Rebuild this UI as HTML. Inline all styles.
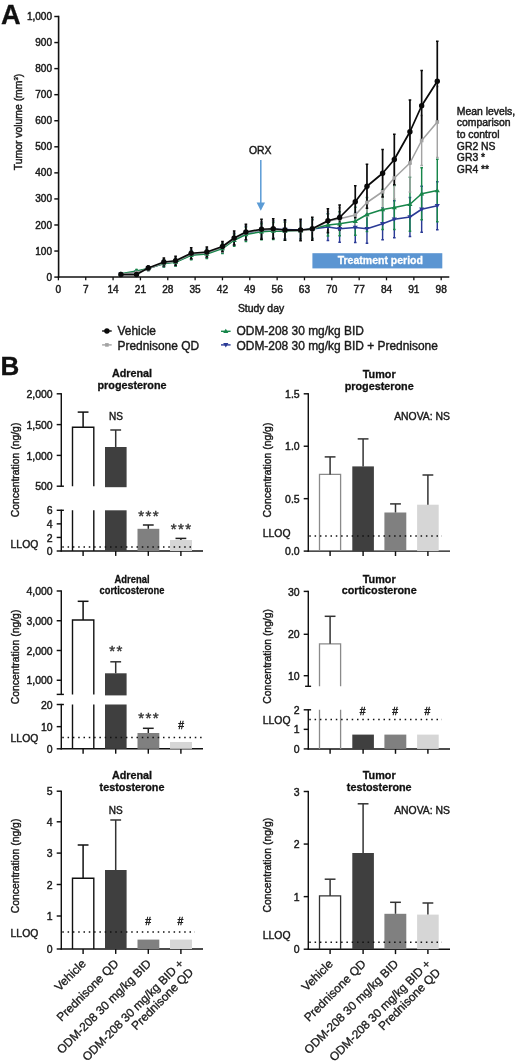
<!DOCTYPE html>
<html lang="en">
<head>
<meta charset="utf-8">
<title>Figure</title>
<style>
html,body{margin:0;padding:0;background:#fff;}
body{width:520px;height:1063px;overflow:hidden;}
svg{display:block;font-family:'Liberation Sans', Arial, sans-serif;}
</style>
</head>
<body>
<svg width="520" height="1063" viewBox="0 0 520 1063">
<rect width="520" height="1063" fill="#fff"/>
<g id="panelA">
<text x="0.9" y="23.5" font-size="27.2" text-anchor="start" font-weight="bold" fill="#111" stroke="#111" stroke-width="0.3">A</text>
<line x1="58.6" y1="15.8" x2="58.6" y2="277.85" stroke="#111" stroke-width="1.6"/>
<line x1="54.3" y1="277.1" x2="58.6" y2="277.1" stroke="#111" stroke-width="1.45"/>
<text x="52.0" y="280.65" font-size="10.0" text-anchor="end" fill="#1a1a1a" stroke="#1a1a1a" stroke-width="0.45">0</text>
<line x1="54.3" y1="251.04" x2="58.6" y2="251.04" stroke="#111" stroke-width="1.45"/>
<text x="52.0" y="254.59" font-size="10.0" text-anchor="end" fill="#1a1a1a" stroke="#1a1a1a" stroke-width="0.45">100</text>
<line x1="54.3" y1="224.98" x2="58.6" y2="224.98" stroke="#111" stroke-width="1.45"/>
<text x="52.0" y="228.53" font-size="10.0" text-anchor="end" fill="#1a1a1a" stroke="#1a1a1a" stroke-width="0.45">200</text>
<line x1="54.3" y1="198.92" x2="58.6" y2="198.92" stroke="#111" stroke-width="1.45"/>
<text x="52.0" y="202.47" font-size="10.0" text-anchor="end" fill="#1a1a1a" stroke="#1a1a1a" stroke-width="0.45">300</text>
<line x1="54.3" y1="172.86" x2="58.6" y2="172.86" stroke="#111" stroke-width="1.45"/>
<text x="52.0" y="176.41" font-size="10.0" text-anchor="end" fill="#1a1a1a" stroke="#1a1a1a" stroke-width="0.45">400</text>
<line x1="54.3" y1="146.8" x2="58.6" y2="146.8" stroke="#111" stroke-width="1.45"/>
<text x="52.0" y="150.35" font-size="10.0" text-anchor="end" fill="#1a1a1a" stroke="#1a1a1a" stroke-width="0.45">500</text>
<line x1="54.3" y1="120.74" x2="58.6" y2="120.74" stroke="#111" stroke-width="1.45"/>
<text x="52.0" y="124.29" font-size="10.0" text-anchor="end" fill="#1a1a1a" stroke="#1a1a1a" stroke-width="0.45">600</text>
<line x1="54.3" y1="94.68" x2="58.6" y2="94.68" stroke="#111" stroke-width="1.45"/>
<text x="52.0" y="98.23" font-size="10.0" text-anchor="end" fill="#1a1a1a" stroke="#1a1a1a" stroke-width="0.45">700</text>
<line x1="54.3" y1="68.62" x2="58.6" y2="68.62" stroke="#111" stroke-width="1.45"/>
<text x="52.0" y="72.17" font-size="10.0" text-anchor="end" fill="#1a1a1a" stroke="#1a1a1a" stroke-width="0.45">800</text>
<line x1="54.3" y1="42.56" x2="58.6" y2="42.56" stroke="#111" stroke-width="1.45"/>
<text x="52.0" y="46.11" font-size="10.0" text-anchor="end" fill="#1a1a1a" stroke="#1a1a1a" stroke-width="0.45">900</text>
<line x1="54.3" y1="16.5" x2="58.6" y2="16.5" stroke="#111" stroke-width="1.45"/>
<text x="52.0" y="20.05" font-size="10.0" text-anchor="end" fill="#1a1a1a" stroke="#1a1a1a" stroke-width="0.45">1,000</text>
<line x1="57.8" y1="277.1" x2="449.3" y2="277.1" stroke="#111" stroke-width="1.5"/>
<line x1="58.4" y1="277.1" x2="58.4" y2="280.3" stroke="#111" stroke-width="1.3"/>
<text x="58.4" y="292.9" font-size="10.1" text-anchor="middle" fill="#1a1a1a" stroke="#1a1a1a" stroke-width="0.45">0</text>
<line x1="85.74" y1="277.1" x2="85.74" y2="280.3" stroke="#111" stroke-width="1.3"/>
<text x="85.74" y="292.9" font-size="10.1" text-anchor="middle" fill="#1a1a1a" stroke="#1a1a1a" stroke-width="0.45">7</text>
<line x1="113.08" y1="277.1" x2="113.08" y2="280.3" stroke="#111" stroke-width="1.3"/>
<text x="113.08" y="292.9" font-size="10.1" text-anchor="middle" fill="#1a1a1a" stroke="#1a1a1a" stroke-width="0.45">14</text>
<line x1="140.43" y1="277.1" x2="140.43" y2="280.3" stroke="#111" stroke-width="1.3"/>
<text x="140.43" y="292.9" font-size="10.1" text-anchor="middle" fill="#1a1a1a" stroke="#1a1a1a" stroke-width="0.45">21</text>
<line x1="167.77" y1="277.1" x2="167.77" y2="280.3" stroke="#111" stroke-width="1.3"/>
<text x="167.77" y="292.9" font-size="10.1" text-anchor="middle" fill="#1a1a1a" stroke="#1a1a1a" stroke-width="0.45">28</text>
<line x1="195.11" y1="277.1" x2="195.11" y2="280.3" stroke="#111" stroke-width="1.3"/>
<text x="195.11" y="292.9" font-size="10.1" text-anchor="middle" fill="#1a1a1a" stroke="#1a1a1a" stroke-width="0.45">35</text>
<line x1="222.45" y1="277.1" x2="222.45" y2="280.3" stroke="#111" stroke-width="1.3"/>
<text x="222.45" y="292.9" font-size="10.1" text-anchor="middle" fill="#1a1a1a" stroke="#1a1a1a" stroke-width="0.45">42</text>
<line x1="249.79" y1="277.1" x2="249.79" y2="280.3" stroke="#111" stroke-width="1.3"/>
<text x="249.79" y="292.9" font-size="10.1" text-anchor="middle" fill="#1a1a1a" stroke="#1a1a1a" stroke-width="0.45">49</text>
<line x1="277.14" y1="277.1" x2="277.14" y2="280.3" stroke="#111" stroke-width="1.3"/>
<text x="277.14" y="292.9" font-size="10.1" text-anchor="middle" fill="#1a1a1a" stroke="#1a1a1a" stroke-width="0.45">56</text>
<line x1="304.48" y1="277.1" x2="304.48" y2="280.3" stroke="#111" stroke-width="1.3"/>
<text x="304.48" y="292.9" font-size="10.1" text-anchor="middle" fill="#1a1a1a" stroke="#1a1a1a" stroke-width="0.45">63</text>
<line x1="331.82" y1="277.1" x2="331.82" y2="280.3" stroke="#111" stroke-width="1.3"/>
<text x="331.82" y="292.9" font-size="10.1" text-anchor="middle" fill="#1a1a1a" stroke="#1a1a1a" stroke-width="0.45">70</text>
<line x1="359.16" y1="277.1" x2="359.16" y2="280.3" stroke="#111" stroke-width="1.3"/>
<text x="359.16" y="292.9" font-size="10.1" text-anchor="middle" fill="#1a1a1a" stroke="#1a1a1a" stroke-width="0.45">77</text>
<line x1="386.5" y1="277.1" x2="386.5" y2="280.3" stroke="#111" stroke-width="1.3"/>
<text x="386.5" y="292.9" font-size="10.1" text-anchor="middle" fill="#1a1a1a" stroke="#1a1a1a" stroke-width="0.45">84</text>
<line x1="413.85" y1="277.1" x2="413.85" y2="280.3" stroke="#111" stroke-width="1.3"/>
<text x="413.85" y="292.9" font-size="10.1" text-anchor="middle" fill="#1a1a1a" stroke="#1a1a1a" stroke-width="0.45">91</text>
<line x1="441.19" y1="277.1" x2="441.19" y2="280.3" stroke="#111" stroke-width="1.3"/>
<text x="441.19" y="292.9" font-size="10.1" text-anchor="middle" fill="#1a1a1a" stroke="#1a1a1a" stroke-width="0.45">98</text>
<text x="21.6" y="122" font-size="10.4" text-anchor="middle" fill="#1a1a1a" stroke="#1a1a1a" stroke-width="0.45" transform="rotate(-90 21.6 122)">Tumor volume (mm<tspan font-size="6" dy="-3.5">3</tspan><tspan dy="3.5">)</tspan></text>
<text x="261" y="311.6" font-size="10.4" text-anchor="middle" fill="#1a1a1a" stroke="#1a1a1a" stroke-width="0.45">Study day</text>
<text x="260.3" y="153.9" font-size="10.4" text-anchor="middle" fill="#1a1a1a" stroke="#1a1a1a" stroke-width="0.45">ORX</text>
<line x1="260.8" y1="160" x2="260.8" y2="204" stroke="#5b9bd5" stroke-width="1.5"/>
<path d="M256.6 202.4 L265 202.4 L260.8 210.8 Z" fill="#5b9bd5"/>
<rect x="312.40" y="253.20" width="129.90" height="15.20" fill="#5b95d2"/>
<text x="380.3" y="264.0" font-size="10.5" text-anchor="middle" font-weight="bold" fill="#fff" stroke="#fff" stroke-width="0.3">Treatment period</text>
<text x="456.8" y="114.6" font-size="10.4" text-anchor="start" fill="#1a1a1a" stroke="#1a1a1a" stroke-width="0.45">Mean levels,</text>
<text x="456.8" y="126.3" font-size="10.4" text-anchor="start" fill="#1a1a1a" stroke="#1a1a1a" stroke-width="0.45">comparison</text>
<text x="456.8" y="138.0" font-size="10.4" text-anchor="start" fill="#1a1a1a" stroke="#1a1a1a" stroke-width="0.45">to control</text>
<text x="456.8" y="149.7" font-size="10.4" text-anchor="start" fill="#1a1a1a" stroke="#1a1a1a" stroke-width="0.45">GR2 NS</text>
<text x="456.8" y="161.4" font-size="10.4" text-anchor="start" fill="#1a1a1a" stroke="#1a1a1a" stroke-width="0.45">GR3 *</text>
<text x="456.8" y="173.1" font-size="10.4" text-anchor="start" fill="#1a1a1a" stroke="#1a1a1a" stroke-width="0.45">GR4 **</text>
<path d="M120.90 273.20V275.20M119.60 273.20h2.6M119.60 275.20h2.6M136.52 270.50V273.50M135.22 270.50h2.6M135.22 273.50h2.6M148.24 266.50V270.50M146.94 266.50h2.6M146.94 270.50h2.6M163.86 259.70V266.70M162.56 259.70h2.6M162.56 266.70h2.6M175.58 257.75V265.75M174.28 257.75h2.6M174.28 265.75h2.6M191.20 250.25V259.25M189.90 250.25h2.6M189.90 259.25h2.6M206.83 248.70V257.70M205.53 248.70h2.6M205.53 257.70h2.6M222.45 242.70V252.70M221.15 242.70h2.6M221.15 252.70h2.6M234.17 233.20V245.20M232.87 233.20h2.6M232.87 245.20h2.6M245.89 226.20V240.20M244.59 226.20h2.6M244.59 240.20h2.6M261.51 222.25V238.25M260.21 222.25h2.6M260.21 238.25h2.6M273.23 220.85V237.85M271.93 220.85h2.6M271.93 237.85h2.6M284.95 220.60V238.60M283.65 220.60h2.6M283.65 238.60h2.6M300.57 221.00V239.00M299.27 221.00h2.6M299.27 239.00h2.6M312.29 219.55V238.55M310.99 219.55h2.6M310.99 238.55h2.6M327.91 213.50V240.50M326.61 213.50h2.6M326.61 240.50h2.6M339.63 215.25V242.25M338.33 215.25h2.6M338.33 242.25h2.6M355.26 212.50V242.50M353.96 212.50h2.6M353.96 242.50h2.6M366.97 214.25V243.25M365.67 214.25h2.6M365.67 243.25h2.6M382.60 207.75V239.75M381.30 207.75h2.6M381.30 239.75h2.6M394.32 200.75V237.75M393.02 200.75h2.6M393.02 237.75h2.6M409.94 197.50V236.50M408.64 197.50h2.6M408.64 236.50h2.6M421.66 186.25V232.25M420.36 186.25h2.6M420.36 232.25h2.6M437.28 181.75V229.75M435.98 181.75h2.6M435.98 229.75h2.6" stroke="#2a3a96" stroke-width="1.45" fill="none"/>
<path d="M120.90 272.80V274.80M119.60 272.80h2.6M119.60 274.80h2.6M136.52 269.50V272.50M135.22 269.50h2.6M135.22 272.50h2.6M148.24 266.50V270.50M146.94 266.50h2.6M146.94 270.50h2.6M163.86 260.00V267.00M162.56 260.00h2.6M162.56 267.00h2.6M175.58 258.25V266.25M174.28 258.25h2.6M174.28 266.25h2.6M191.20 250.75V259.75M189.90 250.75h2.6M189.90 259.75h2.6M206.83 249.50V258.50M205.53 249.50h2.6M205.53 258.50h2.6M222.45 243.50V253.50M221.15 243.50h2.6M221.15 253.50h2.6M234.17 234.20V246.20M232.87 234.20h2.6M232.87 246.20h2.6M245.89 227.50V241.50M244.59 227.50h2.6M244.59 241.50h2.6M261.51 223.75V239.75M260.21 223.75h2.6M260.21 239.75h2.6M273.23 222.45V239.45M271.93 222.45h2.6M271.93 239.45h2.6M284.95 222.20V240.20M283.65 222.20h2.6M283.65 240.20h2.6M300.57 221.60V239.60M299.27 221.60h2.6M299.27 239.60h2.6M312.29 219.55V238.55M310.99 219.55h2.6M310.99 238.55h2.6M327.91 214.00V236.00M326.61 214.00h2.6M326.61 236.00h2.6M339.63 211.75V235.75M338.33 211.75h2.6M338.33 235.75h2.6M355.26 207.25V235.25M353.96 207.25h2.6M353.96 235.25h2.6M366.97 197.50V231.50M365.67 197.50h2.6M365.67 231.50h2.6M382.60 189.50V229.50M381.30 189.50h2.6M381.30 229.50h2.6M394.32 185.50V229.50M393.02 185.50h2.6M393.02 229.50h2.6M409.94 177.25V231.25M408.64 177.25h2.6M408.64 231.25h2.6M421.66 167.75V219.75M420.36 167.75h2.6M420.36 219.75h2.6M437.28 159.30V221.70M435.98 159.30h2.6M435.98 221.70h2.6" stroke="#17864a" stroke-width="1.45" fill="none"/>
<path d="M120.90 273.20V275.20M119.60 273.20h2.6M119.60 275.20h2.6M136.52 271.00V274.00M135.22 271.00h2.6M135.22 274.00h2.6M148.24 266.80V270.80M146.94 266.80h2.6M146.94 270.80h2.6M163.86 259.30V266.30M162.56 259.30h2.6M162.56 266.30h2.6M175.58 257.55V265.55M174.28 257.55h2.6M174.28 265.55h2.6M191.20 249.55V258.55M189.90 249.55h2.6M189.90 258.55h2.6M206.83 248.30V257.30M205.53 248.30h2.6M205.53 257.30h2.6M222.45 242.30V252.30M221.15 242.30h2.6M221.15 252.30h2.6M234.17 232.80V244.80M232.87 232.80h2.6M232.87 244.80h2.6M245.89 225.80V239.80M244.59 225.80h2.6M244.59 239.80h2.6M261.51 222.05V238.05M260.21 222.05h2.6M260.21 238.05h2.6M273.23 221.05V238.05M271.93 221.05h2.6M271.93 238.05h2.6M284.95 221.80V239.80M283.65 221.80h2.6M283.65 239.80h2.6M300.57 221.80V239.80M299.27 221.80h2.6M299.27 239.80h2.6M312.29 220.05V239.05M310.99 220.05h2.6M310.99 239.05h2.6M327.91 211.25V231.25M326.61 211.25h2.6M326.61 231.25h2.6M339.63 207.75V229.75M338.33 207.75h2.6M338.33 229.75h2.6M355.26 203.00V227.00M353.96 203.00h2.6M353.96 227.00h2.6M366.97 188.50V216.50M365.67 188.50h2.6M365.67 216.50h2.6M382.60 174.75V208.75M381.30 174.75h2.6M381.30 208.75h2.6M394.32 157.00V199.00M393.02 157.00h2.6M393.02 199.00h2.6M409.94 134.00V192.00M408.64 134.00h2.6M408.64 192.00h2.6M421.66 115.50V165.50M420.36 115.50h2.6M420.36 165.50h2.6M437.28 86.50V157.50M435.98 86.50h2.6M435.98 157.50h2.6" stroke="#a3a3a3" stroke-width="1.45" fill="none"/>
<path d="M120.90 273.50V275.50M119.60 273.50h2.6M119.60 275.50h2.6M136.52 273.50V275.50M135.22 273.50h2.6M135.22 275.50h2.6M148.24 266.00V270.00M146.94 266.00h2.6M146.94 270.00h2.6M163.86 258.00V266.00M162.56 258.00h2.6M162.56 266.00h2.6M175.58 256.25V265.25M174.28 256.25h2.6M174.28 265.25h2.6M191.20 247.75V258.75M189.90 247.75h2.6M189.90 258.75h2.6M206.83 247.00V257.00M205.53 247.00h2.6M205.53 257.00h2.6M222.45 241.50V251.50M221.15 241.50h2.6M221.15 251.50h2.6M234.17 231.00V245.00M232.87 231.00h2.6M232.87 245.00h2.6M245.89 224.25V239.75M244.59 224.25h2.6M244.59 239.75h2.6M261.51 219.25V239.25M260.21 219.25h2.6M260.21 239.25h2.6M273.23 218.75V238.75M271.93 218.75h2.6M271.93 238.75h2.6M284.95 219.75V240.25M283.65 219.75h2.6M283.65 240.25h2.6M300.57 219.25V240.75M299.27 219.25h2.6M299.27 240.75h2.6M312.29 217.25V240.25M310.99 217.25h2.6M310.99 240.25h2.6M327.91 208.75V232.75M326.61 208.75h2.6M326.61 232.75h2.6M339.63 205.00V230.00M338.33 205.00h2.6M338.33 230.00h2.6M355.26 185.75V217.75M353.96 185.75h2.6M353.96 217.75h2.6M366.97 164.25V208.25M365.67 164.25h2.6M365.67 208.25h2.6M382.60 149.50V197.00M381.30 149.50h2.6M381.30 197.00h2.6M394.32 134.25V184.75M393.02 134.25h2.6M393.02 184.75h2.6M409.94 100.00V163.50M408.64 100.00h2.6M408.64 163.50h2.6M421.66 70.50V141.00M420.36 70.50h2.6M420.36 141.00h2.6M437.28 41.25V121.25M435.98 41.25h2.6M435.98 121.25h2.6" stroke="#0a0a0a" stroke-width="1.7" fill="none"/>
<polyline points="120.90,274.20 136.52,272.00 148.24,268.50 163.86,263.20 175.58,261.75 191.20,254.75 206.83,253.20 222.45,247.70 234.17,239.20 245.89,233.20 261.51,230.25 273.23,229.35 284.95,229.60 300.57,230.00 312.29,229.05 327.91,227.00 339.63,228.75 355.26,227.50 366.97,228.75 382.60,223.75 394.32,219.25 409.94,217.00 421.66,209.25 437.28,205.75" stroke="#2a3a96" stroke-width="1.55" fill="none" stroke-linejoin="round"/>
<path d="M118.30 272.40 L123.50 272.40 L120.90 276.80 Z" fill="#2a3a96"/>
<path d="M133.92 270.20 L139.12 270.20 L136.52 274.60 Z" fill="#2a3a96"/>
<path d="M145.64 266.70 L150.84 266.70 L148.24 271.10 Z" fill="#2a3a96"/>
<path d="M161.26 261.40 L166.46 261.40 L163.86 265.80 Z" fill="#2a3a96"/>
<path d="M172.98 259.95 L178.18 259.95 L175.58 264.35 Z" fill="#2a3a96"/>
<path d="M188.60 252.95 L193.80 252.95 L191.20 257.35 Z" fill="#2a3a96"/>
<path d="M204.23 251.40 L209.43 251.40 L206.83 255.80 Z" fill="#2a3a96"/>
<path d="M219.85 245.90 L225.05 245.90 L222.45 250.30 Z" fill="#2a3a96"/>
<path d="M231.57 237.40 L236.77 237.40 L234.17 241.80 Z" fill="#2a3a96"/>
<path d="M243.29 231.40 L248.49 231.40 L245.89 235.80 Z" fill="#2a3a96"/>
<path d="M258.91 228.45 L264.11 228.45 L261.51 232.85 Z" fill="#2a3a96"/>
<path d="M270.63 227.55 L275.83 227.55 L273.23 231.95 Z" fill="#2a3a96"/>
<path d="M282.35 227.80 L287.55 227.80 L284.95 232.20 Z" fill="#2a3a96"/>
<path d="M297.97 228.20 L303.17 228.20 L300.57 232.60 Z" fill="#2a3a96"/>
<path d="M309.69 227.25 L314.89 227.25 L312.29 231.65 Z" fill="#2a3a96"/>
<path d="M325.31 225.20 L330.51 225.20 L327.91 229.60 Z" fill="#2a3a96"/>
<path d="M337.03 226.95 L342.23 226.95 L339.63 231.35 Z" fill="#2a3a96"/>
<path d="M352.66 225.70 L357.86 225.70 L355.26 230.10 Z" fill="#2a3a96"/>
<path d="M364.37 226.95 L369.57 226.95 L366.97 231.35 Z" fill="#2a3a96"/>
<path d="M380.00 221.95 L385.20 221.95 L382.60 226.35 Z" fill="#2a3a96"/>
<path d="M391.72 217.45 L396.92 217.45 L394.32 221.85 Z" fill="#2a3a96"/>
<path d="M407.34 215.20 L412.54 215.20 L409.94 219.60 Z" fill="#2a3a96"/>
<path d="M419.06 207.45 L424.26 207.45 L421.66 211.85 Z" fill="#2a3a96"/>
<path d="M434.68 203.95 L439.88 203.95 L437.28 208.35 Z" fill="#2a3a96"/>
<polyline points="120.90,273.80 136.52,271.00 148.24,268.50 163.86,263.50 175.58,262.25 191.20,255.25 206.83,254.00 222.45,248.50 234.17,240.20 245.89,234.50 261.51,231.75 273.23,230.95 284.95,231.20 300.57,230.60 312.29,229.05 327.91,225.00 339.63,223.75 355.26,221.25 366.97,214.50 382.60,209.50 394.32,207.50 409.94,204.25 421.66,193.75 437.28,190.50" stroke="#17864a" stroke-width="1.55" fill="none" stroke-linejoin="round"/>
<path d="M118.30 275.60 L123.50 275.60 L120.90 271.20 Z" fill="#17864a"/>
<path d="M133.92 272.80 L139.12 272.80 L136.52 268.40 Z" fill="#17864a"/>
<path d="M145.64 270.30 L150.84 270.30 L148.24 265.90 Z" fill="#17864a"/>
<path d="M161.26 265.30 L166.46 265.30 L163.86 260.90 Z" fill="#17864a"/>
<path d="M172.98 264.05 L178.18 264.05 L175.58 259.65 Z" fill="#17864a"/>
<path d="M188.60 257.05 L193.80 257.05 L191.20 252.65 Z" fill="#17864a"/>
<path d="M204.23 255.80 L209.43 255.80 L206.83 251.40 Z" fill="#17864a"/>
<path d="M219.85 250.30 L225.05 250.30 L222.45 245.90 Z" fill="#17864a"/>
<path d="M231.57 242.00 L236.77 242.00 L234.17 237.60 Z" fill="#17864a"/>
<path d="M243.29 236.30 L248.49 236.30 L245.89 231.90 Z" fill="#17864a"/>
<path d="M258.91 233.55 L264.11 233.55 L261.51 229.15 Z" fill="#17864a"/>
<path d="M270.63 232.75 L275.83 232.75 L273.23 228.35 Z" fill="#17864a"/>
<path d="M282.35 233.00 L287.55 233.00 L284.95 228.60 Z" fill="#17864a"/>
<path d="M297.97 232.40 L303.17 232.40 L300.57 228.00 Z" fill="#17864a"/>
<path d="M309.69 230.85 L314.89 230.85 L312.29 226.45 Z" fill="#17864a"/>
<path d="M325.31 226.80 L330.51 226.80 L327.91 222.40 Z" fill="#17864a"/>
<path d="M337.03 225.55 L342.23 225.55 L339.63 221.15 Z" fill="#17864a"/>
<path d="M352.66 223.05 L357.86 223.05 L355.26 218.65 Z" fill="#17864a"/>
<path d="M364.37 216.30 L369.57 216.30 L366.97 211.90 Z" fill="#17864a"/>
<path d="M380.00 211.30 L385.20 211.30 L382.60 206.90 Z" fill="#17864a"/>
<path d="M391.72 209.30 L396.92 209.30 L394.32 204.90 Z" fill="#17864a"/>
<path d="M407.34 206.05 L412.54 206.05 L409.94 201.65 Z" fill="#17864a"/>
<path d="M419.06 195.55 L424.26 195.55 L421.66 191.15 Z" fill="#17864a"/>
<path d="M434.68 192.30 L439.88 192.30 L437.28 187.90 Z" fill="#17864a"/>
<polyline points="120.90,274.20 136.52,272.50 148.24,268.80 163.86,262.80 175.58,261.55 191.20,254.05 206.83,252.80 222.45,247.30 234.17,238.80 245.89,232.80 261.51,230.05 273.23,229.55 284.95,230.80 300.57,230.80 312.29,229.55 327.91,221.25 339.63,218.75 355.26,215.00 366.97,202.50 382.60,191.75 394.32,178.00 409.94,163.00 421.66,140.50 437.28,122.00" stroke="#a3a3a3" stroke-width="1.55" fill="none" stroke-linejoin="round"/>
<rect x="119.10" y="272.40" width="3.6" height="3.6" fill="#a3a3a3"/>
<rect x="134.72" y="270.70" width="3.6" height="3.6" fill="#a3a3a3"/>
<rect x="146.44" y="267.00" width="3.6" height="3.6" fill="#a3a3a3"/>
<rect x="162.06" y="261.00" width="3.6" height="3.6" fill="#a3a3a3"/>
<rect x="173.78" y="259.75" width="3.6" height="3.6" fill="#a3a3a3"/>
<rect x="189.40" y="252.25" width="3.6" height="3.6" fill="#a3a3a3"/>
<rect x="205.03" y="251.00" width="3.6" height="3.6" fill="#a3a3a3"/>
<rect x="220.65" y="245.50" width="3.6" height="3.6" fill="#a3a3a3"/>
<rect x="232.37" y="237.00" width="3.6" height="3.6" fill="#a3a3a3"/>
<rect x="244.09" y="231.00" width="3.6" height="3.6" fill="#a3a3a3"/>
<rect x="259.71" y="228.25" width="3.6" height="3.6" fill="#a3a3a3"/>
<rect x="271.43" y="227.75" width="3.6" height="3.6" fill="#a3a3a3"/>
<rect x="283.15" y="229.00" width="3.6" height="3.6" fill="#a3a3a3"/>
<rect x="298.77" y="229.00" width="3.6" height="3.6" fill="#a3a3a3"/>
<rect x="310.49" y="227.75" width="3.6" height="3.6" fill="#a3a3a3"/>
<rect x="326.11" y="219.45" width="3.6" height="3.6" fill="#a3a3a3"/>
<rect x="337.83" y="216.95" width="3.6" height="3.6" fill="#a3a3a3"/>
<rect x="353.46" y="213.20" width="3.6" height="3.6" fill="#a3a3a3"/>
<rect x="365.17" y="200.70" width="3.6" height="3.6" fill="#a3a3a3"/>
<rect x="380.80" y="189.95" width="3.6" height="3.6" fill="#a3a3a3"/>
<rect x="392.52" y="176.20" width="3.6" height="3.6" fill="#a3a3a3"/>
<rect x="408.14" y="161.20" width="3.6" height="3.6" fill="#a3a3a3"/>
<rect x="419.86" y="138.70" width="3.6" height="3.6" fill="#a3a3a3"/>
<rect x="435.48" y="120.20" width="3.6" height="3.6" fill="#a3a3a3"/>
<polyline points="120.90,274.50 136.52,274.50 148.24,268.00 163.86,262.00 175.58,260.75 191.20,253.25 206.83,252.00 222.45,246.50 234.17,238.00 245.89,232.00 261.51,229.25 273.23,228.75 284.95,230.00 300.57,230.00 312.29,228.75 327.91,220.75 339.63,217.50 355.26,201.75 366.97,186.25 382.60,173.25 394.32,159.50 409.94,131.75 421.66,105.75 437.28,81.25" stroke="#0a0a0a" stroke-width="1.75" fill="none" stroke-linejoin="round"/>
<circle cx="120.90" cy="274.50" r="2.7" fill="#0a0a0a"/>
<circle cx="136.52" cy="274.50" r="2.7" fill="#0a0a0a"/>
<circle cx="148.24" cy="268.00" r="2.7" fill="#0a0a0a"/>
<circle cx="163.86" cy="262.00" r="2.7" fill="#0a0a0a"/>
<circle cx="175.58" cy="260.75" r="2.7" fill="#0a0a0a"/>
<circle cx="191.20" cy="253.25" r="2.7" fill="#0a0a0a"/>
<circle cx="206.83" cy="252.00" r="2.7" fill="#0a0a0a"/>
<circle cx="222.45" cy="246.50" r="2.7" fill="#0a0a0a"/>
<circle cx="234.17" cy="238.00" r="2.7" fill="#0a0a0a"/>
<circle cx="245.89" cy="232.00" r="2.7" fill="#0a0a0a"/>
<circle cx="261.51" cy="229.25" r="2.7" fill="#0a0a0a"/>
<circle cx="273.23" cy="228.75" r="2.7" fill="#0a0a0a"/>
<circle cx="284.95" cy="230.00" r="2.7" fill="#0a0a0a"/>
<circle cx="300.57" cy="230.00" r="2.7" fill="#0a0a0a"/>
<circle cx="312.29" cy="228.75" r="2.7" fill="#0a0a0a"/>
<circle cx="327.91" cy="220.75" r="2.7" fill="#0a0a0a"/>
<circle cx="339.63" cy="217.50" r="2.7" fill="#0a0a0a"/>
<circle cx="355.26" cy="201.75" r="2.7" fill="#0a0a0a"/>
<circle cx="366.97" cy="186.25" r="2.7" fill="#0a0a0a"/>
<circle cx="382.60" cy="173.25" r="2.7" fill="#0a0a0a"/>
<circle cx="394.32" cy="159.50" r="2.7" fill="#0a0a0a"/>
<circle cx="409.94" cy="131.75" r="2.7" fill="#0a0a0a"/>
<circle cx="421.66" cy="105.75" r="2.7" fill="#0a0a0a"/>
<circle cx="437.28" cy="81.25" r="2.7" fill="#0a0a0a"/>
<line x1="102.1" y1="331.0" x2="111.7" y2="331.0" stroke="#0a0a0a" stroke-width="1.4"/>
<circle cx="106.90" cy="331.00" r="2.7" fill="#0a0a0a"/>
<text x="117.5" y="335.0" font-size="11.95" text-anchor="start" fill="#1a1a1a" stroke="#1a1a1a" stroke-width="0.4">Vehicle</text>
<line x1="102.1" y1="344.9" x2="111.7" y2="344.9" stroke="#a3a3a3" stroke-width="1.4"/>
<rect x="105.10" y="343.10" width="3.6" height="3.6" fill="#a3a3a3"/>
<text x="117.5" y="349.9" font-size="11.95" text-anchor="start" fill="#1a1a1a" stroke="#1a1a1a" stroke-width="0.4">Prednisone QD</text>
<line x1="221.0" y1="331.3" x2="230.6" y2="331.3" stroke="#17864a" stroke-width="1.4"/>
<path d="M223.20 333.10 L228.40 333.10 L225.80 328.70 Z" fill="#17864a"/>
<text x="236.5" y="335.0" font-size="11.95" text-anchor="start" fill="#1a1a1a" stroke="#1a1a1a" stroke-width="0.4">ODM-208 30 mg/kg BID</text>
<line x1="221.0" y1="344.9" x2="230.6" y2="344.9" stroke="#2a3a96" stroke-width="1.4"/>
<path d="M223.20 343.10 L228.40 343.10 L225.80 347.50 Z" fill="#2a3a96"/>
<text x="236.5" y="349.8" font-size="11.95" text-anchor="start" fill="#1a1a1a" stroke="#1a1a1a" stroke-width="0.4">ODM-208 30 mg/kg BID + Prednisone</text>
</g>
<g id="panelB">
<text x="0.6" y="374.8" font-size="26" text-anchor="start" font-weight="bold" fill="#111" stroke="#111" stroke-width="0.3">B</text>
<text x="132" y="377.2" font-size="10.8" text-anchor="middle" font-weight="bold" fill="#111" stroke="#111" stroke-width="0.3">Adrenal</text>
<text x="132" y="388.8" font-size="10.8" text-anchor="middle" font-weight="bold" fill="#111" stroke="#111" stroke-width="0.3">progesterone</text>
<text x="18.8" y="470" font-size="10.4" text-anchor="middle" fill="#1a1a1a" stroke="#1a1a1a" stroke-width="0.42" transform="rotate(-90 18.8 470)">Concentration (ng/g)</text>
<line x1="61.3" y1="393.15" x2="61.3" y2="486.85" stroke="#111" stroke-width="1.45"/>
<line x1="56.7" y1="393.8" x2="61.3" y2="393.8" stroke="#111" stroke-width="1.45"/>
<text x="52.7" y="397.9" font-size="10.5" text-anchor="end" fill="#1a1a1a" stroke="#1a1a1a" stroke-width="0.42">2,000</text>
<line x1="56.7" y1="424.6" x2="61.3" y2="424.6" stroke="#111" stroke-width="1.45"/>
<text x="52.7" y="428.7" font-size="10.5" text-anchor="end" fill="#1a1a1a" stroke="#1a1a1a" stroke-width="0.42">1,500</text>
<line x1="56.7" y1="455.4" x2="61.3" y2="455.4" stroke="#111" stroke-width="1.45"/>
<text x="52.7" y="459.5" font-size="10.5" text-anchor="end" fill="#1a1a1a" stroke="#1a1a1a" stroke-width="0.42">1,000</text>
<line x1="56.7" y1="486.2" x2="61.3" y2="486.2" stroke="#111" stroke-width="1.45"/>
<text x="52.7" y="490.3" font-size="10.5" text-anchor="end" fill="#1a1a1a" stroke="#1a1a1a" stroke-width="0.42">500</text>
<line x1="61.3" y1="486.2" x2="63.9" y2="486.2" stroke="#111" stroke-width="1.45"/>
<line x1="61.3" y1="509.65" x2="61.3" y2="551.65" stroke="#111" stroke-width="1.45"/>
<line x1="61.3" y1="510.3" x2="63.9" y2="510.3" stroke="#111" stroke-width="1.45"/>
<line x1="56.7" y1="510.3" x2="61.3" y2="510.3" stroke="#111" stroke-width="1.45"/>
<text x="52.7" y="514.4" font-size="10.5" text-anchor="end" fill="#1a1a1a" stroke="#1a1a1a" stroke-width="0.42">6</text>
<line x1="56.7" y1="523.87" x2="61.3" y2="523.87" stroke="#111" stroke-width="1.45"/>
<text x="52.7" y="527.97" font-size="10.5" text-anchor="end" fill="#1a1a1a" stroke="#1a1a1a" stroke-width="0.42">4</text>
<line x1="56.7" y1="537.43" x2="61.3" y2="537.43" stroke="#111" stroke-width="1.45"/>
<text x="52.7" y="541.53" font-size="10.5" text-anchor="end" fill="#1a1a1a" stroke="#1a1a1a" stroke-width="0.42">2</text>
<line x1="56.7" y1="551.0" x2="61.3" y2="551.0" stroke="#111" stroke-width="1.45"/>
<text x="52.7" y="555.1" font-size="10.5" text-anchor="end" fill="#1a1a1a" stroke="#1a1a1a" stroke-width="0.42">0</text>
<line x1="60.65" y1="551.0" x2="203" y2="551.0" stroke="#111" stroke-width="1.45"/>
<line x1="83.1" y1="551.0" x2="83.1" y2="555.9" stroke="#111" stroke-width="1.45"/>
<line x1="115.7" y1="551.0" x2="115.7" y2="555.9" stroke="#111" stroke-width="1.45"/>
<line x1="148.3" y1="551.0" x2="148.3" y2="555.9" stroke="#111" stroke-width="1.45"/>
<line x1="180.9" y1="551.0" x2="180.9" y2="555.9" stroke="#111" stroke-width="1.45"/>
<path d="M72.5 486.2V427.2H93.8V486.2M72.5 510.3V551.0M93.8 510.3V551.0" stroke="#111" stroke-width="1.4" fill="none"/>
<line x1="83.1" y1="412.1" x2="83.1" y2="427.2" stroke="#111" stroke-width="1.5"/>
<line x1="77.7" y1="412.1" x2="88.5" y2="412.1" stroke="#111" stroke-width="1.5"/>
<rect x="105.00" y="447.00" width="21.60" height="40.20" fill="#3f3f3f"/>
<rect x="105.00" y="510.30" width="21.60" height="40.70" fill="#3f3f3f"/>
<line x1="115.7" y1="430" x2="115.7" y2="447" stroke="#333" stroke-width="1.5"/>
<line x1="110.3" y1="430" x2="121.1" y2="430" stroke="#333" stroke-width="1.5"/>
<rect x="137.50" y="528.80" width="21.80" height="22.20" fill="#808080"/>
<line x1="148.3" y1="525" x2="148.3" y2="528.8" stroke="#222" stroke-width="1.5"/>
<line x1="142.9" y1="525" x2="153.7" y2="525" stroke="#222" stroke-width="1.5"/>
<rect x="170.00" y="540.00" width="22.00" height="11.00" fill="#d6d6d6"/>
<line x1="180.9" y1="538.4" x2="180.9" y2="540" stroke="#222" stroke-width="1.5"/>
<line x1="175.5" y1="538.4" x2="186.3" y2="538.4" stroke="#222" stroke-width="1.5"/>
<line x1="62.3" y1="547" x2="194" y2="547" stroke="#111" stroke-width="1.5" stroke-dasharray="1.5 3.8"/>
<text x="10.6" y="547.6" font-size="10.4" text-anchor="start" fill="#1a1a1a" stroke="#1a1a1a" stroke-width="0.42">LLOQ</text>
<text x="115.9" y="420.0" font-size="10" text-anchor="middle" fill="#1a1a1a" stroke="#1a1a1a" stroke-width="0.42">NS</text>
<text x="149.2" y="521.0" font-size="15" text-anchor="middle" fill="#333" stroke="#333" stroke-width="0.42" letter-spacing="1.4">***</text>
<text x="181.7" y="533.5" font-size="15" text-anchor="middle" fill="#333" stroke="#333" stroke-width="0.42" letter-spacing="1.4">***</text>
<text x="132" y="582.8" font-size="10.8" text-anchor="middle" font-weight="bold" fill="#111" stroke="#111" stroke-width="0.3" textLength="35" lengthAdjust="spacingAndGlyphs">Adrenal</text>
<text x="132" y="594.4" font-size="10.8" text-anchor="middle" font-weight="bold" fill="#111" stroke="#111" stroke-width="0.3" textLength="65" lengthAdjust="spacingAndGlyphs">corticosterone</text>
<text x="18.8" y="657" font-size="10.4" text-anchor="middle" fill="#1a1a1a" stroke="#1a1a1a" stroke-width="0.42" transform="rotate(-90 18.8 657)">Concentration (ng/g)</text>
<line x1="61.3" y1="590.35" x2="61.3" y2="695.05" stroke="#111" stroke-width="1.45"/>
<line x1="56.7" y1="591.0" x2="61.3" y2="591.0" stroke="#111" stroke-width="1.45"/>
<text x="52.7" y="595.1" font-size="10.5" text-anchor="end" fill="#1a1a1a" stroke="#1a1a1a" stroke-width="0.42">4,000</text>
<line x1="56.7" y1="620.75" x2="61.3" y2="620.75" stroke="#111" stroke-width="1.45"/>
<text x="52.7" y="624.85" font-size="10.5" text-anchor="end" fill="#1a1a1a" stroke="#1a1a1a" stroke-width="0.42">3,000</text>
<line x1="56.7" y1="650.5" x2="61.3" y2="650.5" stroke="#111" stroke-width="1.45"/>
<text x="52.7" y="654.6" font-size="10.5" text-anchor="end" fill="#1a1a1a" stroke="#1a1a1a" stroke-width="0.42">2,000</text>
<line x1="56.7" y1="680.25" x2="61.3" y2="680.25" stroke="#111" stroke-width="1.45"/>
<text x="52.7" y="684.35" font-size="10.5" text-anchor="end" fill="#1a1a1a" stroke="#1a1a1a" stroke-width="0.42">1,000</text>
<line x1="56.7" y1="694.4" x2="63.9" y2="694.4" stroke="#111" stroke-width="1.45"/>
<line x1="61.3" y1="703.85" x2="61.3" y2="749.45" stroke="#111" stroke-width="1.45"/>
<line x1="61.3" y1="704.5" x2="63.9" y2="704.5" stroke="#111" stroke-width="1.45"/>
<line x1="56.7" y1="704.5" x2="61.3" y2="704.5" stroke="#111" stroke-width="1.45"/>
<text x="52.7" y="708.6" font-size="10.5" text-anchor="end" fill="#1a1a1a" stroke="#1a1a1a" stroke-width="0.42">20</text>
<line x1="56.7" y1="726.65" x2="61.3" y2="726.65" stroke="#111" stroke-width="1.45"/>
<text x="52.7" y="730.75" font-size="10.5" text-anchor="end" fill="#1a1a1a" stroke="#1a1a1a" stroke-width="0.42">10</text>
<line x1="56.7" y1="748.8" x2="61.3" y2="748.8" stroke="#111" stroke-width="1.45"/>
<text x="52.7" y="752.9" font-size="10.5" text-anchor="end" fill="#1a1a1a" stroke="#1a1a1a" stroke-width="0.42">0</text>
<line x1="60.65" y1="748.8" x2="203" y2="748.8" stroke="#111" stroke-width="1.45"/>
<line x1="83.1" y1="748.8" x2="83.1" y2="753.7" stroke="#111" stroke-width="1.45"/>
<line x1="115.7" y1="748.8" x2="115.7" y2="753.7" stroke="#111" stroke-width="1.45"/>
<line x1="148.3" y1="748.8" x2="148.3" y2="753.7" stroke="#111" stroke-width="1.45"/>
<line x1="180.9" y1="748.8" x2="180.9" y2="753.7" stroke="#111" stroke-width="1.45"/>
<path d="M72.5 694.4V620H93.8V694.4M72.5 704.5V748.8M93.8 704.5V748.8" stroke="#111" stroke-width="1.4" fill="none"/>
<line x1="83.1" y1="601.3" x2="83.1" y2="620" stroke="#111" stroke-width="1.5"/>
<line x1="77.7" y1="601.3" x2="88.5" y2="601.3" stroke="#111" stroke-width="1.5"/>
<rect x="105.00" y="673.30" width="21.60" height="22.10" fill="#3f3f3f"/>
<rect x="105.00" y="704.50" width="21.60" height="44.30" fill="#3f3f3f"/>
<line x1="115.7" y1="661.8" x2="115.7" y2="673.3" stroke="#333" stroke-width="1.5"/>
<line x1="110.3" y1="661.8" x2="121.1" y2="661.8" stroke="#333" stroke-width="1.5"/>
<rect x="137.50" y="733.00" width="21.80" height="15.80" fill="#808080"/>
<line x1="148.3" y1="728.3" x2="148.3" y2="733" stroke="#222" stroke-width="1.5"/>
<line x1="142.9" y1="728.3" x2="153.7" y2="728.3" stroke="#222" stroke-width="1.5"/>
<rect x="170.00" y="742.00" width="22.00" height="6.80" fill="#d6d6d6"/>
<line x1="62.3" y1="737.5" x2="203" y2="737.5" stroke="#111" stroke-width="1.5" stroke-dasharray="1.5 3.8"/>
<text x="10.6" y="741.6" font-size="10.4" text-anchor="start" fill="#1a1a1a" stroke="#1a1a1a" stroke-width="0.42">LLOQ</text>
<text x="116.4" y="655.5" font-size="15" text-anchor="middle" fill="#333" stroke="#333" stroke-width="0.42" letter-spacing="1.4">**</text>
<text x="149.2" y="722.5" font-size="15" text-anchor="middle" fill="#333" stroke="#333" stroke-width="0.42" letter-spacing="1.4">***</text>
<text x="181.2" y="728.9" font-size="10.4" text-anchor="middle" fill="#1a1a1a" stroke="#1a1a1a" stroke-width="0.42">#</text>
<text x="132" y="779.2" font-size="10.8" text-anchor="middle" font-weight="bold" fill="#111" stroke="#111" stroke-width="0.3">Adrenal</text>
<text x="132" y="791.4" font-size="10.8" text-anchor="middle" font-weight="bold" fill="#111" stroke="#111" stroke-width="0.3">testosterone</text>
<text x="18.8" y="866" font-size="10.4" text-anchor="middle" fill="#1a1a1a" stroke="#1a1a1a" stroke-width="0.42" transform="rotate(-90 18.8 866)">Concentration (ng/g)</text>
<line x1="61.3" y1="790.65" x2="61.3" y2="949.65" stroke="#111" stroke-width="1.45"/>
<line x1="56.7" y1="791.2" x2="61.3" y2="791.2" stroke="#111" stroke-width="1.45"/>
<text x="52.7" y="795.3" font-size="10.5" text-anchor="end" fill="#1a1a1a" stroke="#1a1a1a" stroke-width="0.42">5</text>
<line x1="56.7" y1="821.8" x2="61.3" y2="821.8" stroke="#111" stroke-width="1.45"/>
<text x="52.7" y="825.9" font-size="10.5" text-anchor="end" fill="#1a1a1a" stroke="#1a1a1a" stroke-width="0.42">4</text>
<line x1="56.7" y1="853.1" x2="61.3" y2="853.1" stroke="#111" stroke-width="1.45"/>
<text x="52.7" y="857.2" font-size="10.5" text-anchor="end" fill="#1a1a1a" stroke="#1a1a1a" stroke-width="0.42">3</text>
<line x1="56.7" y1="884.5" x2="61.3" y2="884.5" stroke="#111" stroke-width="1.45"/>
<text x="52.7" y="888.6" font-size="10.5" text-anchor="end" fill="#1a1a1a" stroke="#1a1a1a" stroke-width="0.42">2</text>
<line x1="56.7" y1="916.0" x2="61.3" y2="916.0" stroke="#111" stroke-width="1.45"/>
<text x="52.7" y="920.1" font-size="10.5" text-anchor="end" fill="#1a1a1a" stroke="#1a1a1a" stroke-width="0.42">1</text>
<line x1="56.7" y1="949.0" x2="61.3" y2="949.0" stroke="#111" stroke-width="1.45"/>
<text x="52.7" y="953.1" font-size="10.5" text-anchor="end" fill="#1a1a1a" stroke="#1a1a1a" stroke-width="0.42">0</text>
<line x1="60.65" y1="949.0" x2="203" y2="949.0" stroke="#111" stroke-width="1.45"/>
<line x1="83.1" y1="949.0" x2="83.1" y2="953.9" stroke="#111" stroke-width="1.45"/>
<line x1="115.7" y1="949.0" x2="115.7" y2="953.9" stroke="#111" stroke-width="1.45"/>
<line x1="148.3" y1="949.0" x2="148.3" y2="953.9" stroke="#111" stroke-width="1.45"/>
<line x1="180.9" y1="949.0" x2="180.9" y2="953.9" stroke="#111" stroke-width="1.45"/>
<path d="M72.5 949.0V878.3H93.8V949.0" stroke="#111" stroke-width="1.4" fill="none"/>
<line x1="83.1" y1="845" x2="83.1" y2="878.3" stroke="#111" stroke-width="1.5"/>
<line x1="77.7" y1="845" x2="88.5" y2="845" stroke="#111" stroke-width="1.5"/>
<rect x="105.00" y="870.00" width="21.60" height="79.00" fill="#3f3f3f"/>
<line x1="115.7" y1="820" x2="115.7" y2="870" stroke="#333" stroke-width="1.5"/>
<line x1="110.3" y1="820" x2="121.1" y2="820" stroke="#333" stroke-width="1.5"/>
<rect x="137.50" y="939.60" width="21.80" height="9.40" fill="#808080"/>
<rect x="170.00" y="939.60" width="22.00" height="9.40" fill="#d6d6d6"/>
<line x1="62.3" y1="932" x2="195" y2="932" stroke="#111" stroke-width="1.5" stroke-dasharray="1.5 3.8"/>
<text x="10.6" y="936.6" font-size="10.4" text-anchor="start" fill="#1a1a1a" stroke="#1a1a1a" stroke-width="0.42">LLOQ</text>
<text x="115.8" y="814.2" font-size="10" text-anchor="middle" fill="#1a1a1a" stroke="#1a1a1a" stroke-width="0.42">NS</text>
<text x="148.2" y="924.6" font-size="10.4" text-anchor="middle" fill="#1a1a1a" stroke="#1a1a1a" stroke-width="0.42">#</text>
<text x="180.5" y="924.6" font-size="10.4" text-anchor="middle" fill="#1a1a1a" stroke="#1a1a1a" stroke-width="0.42">#</text>
<text x="86.7" y="964.4" font-size="11.95" text-anchor="end" fill="#1a1a1a" stroke="#1a1a1a" stroke-width="0.32" transform="rotate(-45 86.7 964.4)">Vehicle</text>
<text x="119.3" y="964.4" font-size="11.95" text-anchor="end" fill="#1a1a1a" stroke="#1a1a1a" stroke-width="0.32" transform="rotate(-45 119.3 964.4)">Prednisone QD</text>
<text x="151.9" y="964.4" font-size="11.95" text-anchor="end" fill="#1a1a1a" stroke="#1a1a1a" stroke-width="0.32" transform="rotate(-45 151.9 964.4)">ODM-208 30 mg/kg BID</text>
<text x="184.5" y="964.4" font-size="11.95" text-anchor="end" fill="#1a1a1a" stroke="#1a1a1a" stroke-width="0.32" transform="rotate(-45 184.5 964.4)">ODM-208 30 mg/kg BID +</text>
<text x="194.0" y="973.1" font-size="11.95" text-anchor="end" fill="#1a1a1a" stroke="#1a1a1a" stroke-width="0.32" transform="rotate(-45 194.0 973.1)">Prednisone QD</text>
<text x="379.2" y="377.8" font-size="10.8" text-anchor="middle" font-weight="bold" fill="#111" stroke="#111" stroke-width="0.3">Tumor</text>
<text x="379.2" y="389.6" font-size="10.8" text-anchor="middle" font-weight="bold" fill="#111" stroke="#111" stroke-width="0.3">progesterone</text>
<text x="271.1" y="470" font-size="10.4" text-anchor="middle" fill="#1a1a1a" stroke="#1a1a1a" stroke-width="0.42" transform="rotate(-90 271.1 470)">Concentration (ng/g)</text>
<line x1="308.3" y1="393.15" x2="308.3" y2="551.75" stroke="#111" stroke-width="1.45"/>
<line x1="303.7" y1="393.8" x2="308.3" y2="393.8" stroke="#111" stroke-width="1.45"/>
<text x="299.7" y="397.9" font-size="10.5" text-anchor="end" fill="#1a1a1a" stroke="#1a1a1a" stroke-width="0.42">1.5</text>
<line x1="303.7" y1="446.23" x2="308.3" y2="446.23" stroke="#111" stroke-width="1.45"/>
<text x="299.7" y="450.33" font-size="10.5" text-anchor="end" fill="#1a1a1a" stroke="#1a1a1a" stroke-width="0.42">1.0</text>
<line x1="303.7" y1="498.67" x2="308.3" y2="498.67" stroke="#111" stroke-width="1.45"/>
<text x="299.7" y="502.77" font-size="10.5" text-anchor="end" fill="#1a1a1a" stroke="#1a1a1a" stroke-width="0.42">0.5</text>
<line x1="303.7" y1="551.1" x2="308.3" y2="551.1" stroke="#111" stroke-width="1.45"/>
<text x="299.7" y="555.2" font-size="10.5" text-anchor="end" fill="#1a1a1a" stroke="#1a1a1a" stroke-width="0.42">0.0</text>
<line x1="307.65" y1="551.1" x2="450" y2="551.1" stroke="#111" stroke-width="1.45"/>
<line x1="330.1" y1="551.1" x2="330.1" y2="556.0" stroke="#111" stroke-width="1.45"/>
<line x1="363.1" y1="551.1" x2="363.1" y2="556.0" stroke="#111" stroke-width="1.45"/>
<line x1="395.5" y1="551.1" x2="395.5" y2="556.0" stroke="#111" stroke-width="1.45"/>
<line x1="427.9" y1="551.1" x2="427.9" y2="556.0" stroke="#111" stroke-width="1.45"/>
<path d="M319.5 551.1V474.4H340.6V551.1" stroke="#8a8a8a" stroke-width="1.3" fill="none"/>
<line x1="330.1" y1="456.9" x2="330.1" y2="474.4" stroke="#333" stroke-width="1.5"/>
<line x1="324.7" y1="456.9" x2="335.5" y2="456.9" stroke="#333" stroke-width="1.5"/>
<rect x="352.30" y="466.40" width="21.60" height="84.70" fill="#3f3f3f"/>
<line x1="363.1" y1="438.9" x2="363.1" y2="466.4" stroke="#333" stroke-width="1.5"/>
<line x1="357.7" y1="438.9" x2="368.5" y2="438.9" stroke="#333" stroke-width="1.5"/>
<rect x="384.40" y="512.50" width="21.90" height="38.60" fill="#808080"/>
<line x1="395.5" y1="503.9" x2="395.5" y2="512.5" stroke="#333" stroke-width="1.5"/>
<line x1="390.1" y1="503.9" x2="400.9" y2="503.9" stroke="#333" stroke-width="1.5"/>
<rect x="417.10" y="504.70" width="21.60" height="46.40" fill="#d6d6d6"/>
<line x1="427.9" y1="475" x2="427.9" y2="504.7" stroke="#333" stroke-width="1.5"/>
<line x1="422.5" y1="475" x2="433.3" y2="475" stroke="#333" stroke-width="1.5"/>
<line x1="309.3" y1="536.1" x2="442" y2="536.1" stroke="#111" stroke-width="1.5" stroke-dasharray="1.5 3.8"/>
<text x="262.8" y="537.2" font-size="10.4" text-anchor="start" fill="#1a1a1a" stroke="#1a1a1a" stroke-width="0.42">LLOQ</text>
<text x="394.2" y="419.8" font-size="10.4" text-anchor="start" fill="#1a1a1a" stroke="#1a1a1a" stroke-width="0.42">ANOVA: NS</text>
<text x="379.2" y="582.7" font-size="10.8" text-anchor="middle" font-weight="bold" fill="#111" stroke="#111" stroke-width="0.3">Tumor</text>
<text x="379.2" y="594.3" font-size="10.8" text-anchor="middle" font-weight="bold" fill="#111" stroke="#111" stroke-width="0.3">corticosterone</text>
<text x="271.1" y="656.3" font-size="10.4" text-anchor="middle" fill="#1a1a1a" stroke="#1a1a1a" stroke-width="0.42" transform="rotate(-90 271.1 656.3)">Concentration (ng/g)</text>
<line x1="308.3" y1="590.75" x2="308.3" y2="686.95" stroke="#111" stroke-width="1.45"/>
<line x1="303.7" y1="591.4" x2="308.3" y2="591.4" stroke="#111" stroke-width="1.45"/>
<text x="299.7" y="595.5" font-size="10.5" text-anchor="end" fill="#1a1a1a" stroke="#1a1a1a" stroke-width="0.42">30</text>
<line x1="303.7" y1="634.3" x2="308.3" y2="634.3" stroke="#111" stroke-width="1.45"/>
<text x="299.7" y="638.4" font-size="10.5" text-anchor="end" fill="#1a1a1a" stroke="#1a1a1a" stroke-width="0.42">20</text>
<line x1="303.7" y1="675.7" x2="308.3" y2="675.7" stroke="#111" stroke-width="1.45"/>
<text x="299.7" y="679.8" font-size="10.5" text-anchor="end" fill="#1a1a1a" stroke="#1a1a1a" stroke-width="0.42">10</text>
<line x1="305.1" y1="686.3" x2="311.1" y2="686.3" stroke="#111" stroke-width="1.45"/>
<line x1="308.3" y1="709.15" x2="308.3" y2="749.55" stroke="#111" stroke-width="1.45"/>
<line x1="308.3" y1="709.8" x2="311.1" y2="709.8" stroke="#111" stroke-width="1.45"/>
<line x1="303.7" y1="709.8" x2="308.3" y2="709.8" stroke="#111" stroke-width="1.45"/>
<text x="299.7" y="713.9" font-size="10.5" text-anchor="end" fill="#1a1a1a" stroke="#1a1a1a" stroke-width="0.42">2</text>
<line x1="303.7" y1="729.35" x2="308.3" y2="729.35" stroke="#111" stroke-width="1.45"/>
<text x="299.7" y="733.45" font-size="10.5" text-anchor="end" fill="#1a1a1a" stroke="#1a1a1a" stroke-width="0.42">1</text>
<line x1="303.7" y1="748.9" x2="308.3" y2="748.9" stroke="#111" stroke-width="1.45"/>
<text x="299.7" y="753.0" font-size="10.5" text-anchor="end" fill="#1a1a1a" stroke="#1a1a1a" stroke-width="0.42">0</text>
<line x1="307.65" y1="748.9" x2="450" y2="748.9" stroke="#111" stroke-width="1.45"/>
<line x1="330.1" y1="748.9" x2="330.1" y2="753.8" stroke="#111" stroke-width="1.45"/>
<line x1="363.1" y1="748.9" x2="363.1" y2="753.8" stroke="#111" stroke-width="1.45"/>
<line x1="395.5" y1="748.9" x2="395.5" y2="753.8" stroke="#111" stroke-width="1.45"/>
<line x1="427.9" y1="748.9" x2="427.9" y2="753.8" stroke="#111" stroke-width="1.45"/>
<path d="M319.5 686.3V643.8H340.6V686.3M319.5 709.8V748.9M340.6 709.8V748.9" stroke="#8a8a8a" stroke-width="1.3" fill="none"/>
<line x1="330.1" y1="616.3" x2="330.1" y2="643.8" stroke="#333" stroke-width="1.5"/>
<line x1="324.7" y1="616.3" x2="335.5" y2="616.3" stroke="#333" stroke-width="1.5"/>
<rect x="352.30" y="734.60" width="21.60" height="14.30" fill="#3f3f3f"/>
<rect x="384.40" y="734.60" width="21.90" height="14.30" fill="#808080"/>
<rect x="417.10" y="734.60" width="21.60" height="14.30" fill="#d6d6d6"/>
<line x1="309.3" y1="719.6" x2="442" y2="719.6" stroke="#111" stroke-width="1.5" stroke-dasharray="1.5 3.8"/>
<text x="262.8" y="724.1" font-size="10.4" text-anchor="start" fill="#1a1a1a" stroke="#1a1a1a" stroke-width="0.42">LLOQ</text>
<text x="362.7" y="714.8" font-size="10.4" text-anchor="middle" fill="#1a1a1a" stroke="#1a1a1a" stroke-width="0.42">#</text>
<text x="395.1" y="714.8" font-size="10.4" text-anchor="middle" fill="#1a1a1a" stroke="#1a1a1a" stroke-width="0.42">#</text>
<text x="427.5" y="714.8" font-size="10.4" text-anchor="middle" fill="#1a1a1a" stroke="#1a1a1a" stroke-width="0.42">#</text>
<text x="379.2" y="778.8" font-size="10.8" text-anchor="middle" font-weight="bold" fill="#111" stroke="#111" stroke-width="0.3">Tumor</text>
<text x="379.2" y="791.1" font-size="10.8" text-anchor="middle" font-weight="bold" fill="#111" stroke="#111" stroke-width="0.3">testosterone</text>
<text x="271.0" y="865.2" font-size="10.4" text-anchor="middle" fill="#1a1a1a" stroke="#1a1a1a" stroke-width="0.42" transform="rotate(-90 271.0 865.2)">Concentration (ng/g)</text>
<line x1="308.3" y1="790.85" x2="308.3" y2="949.85" stroke="#111" stroke-width="1.45"/>
<line x1="303.7" y1="791.5" x2="308.3" y2="791.5" stroke="#111" stroke-width="1.45"/>
<text x="299.7" y="795.6" font-size="10.5" text-anchor="end" fill="#1a1a1a" stroke="#1a1a1a" stroke-width="0.42">3</text>
<line x1="303.7" y1="844.07" x2="308.3" y2="844.07" stroke="#111" stroke-width="1.45"/>
<text x="299.7" y="848.17" font-size="10.5" text-anchor="end" fill="#1a1a1a" stroke="#1a1a1a" stroke-width="0.42">2</text>
<line x1="303.7" y1="896.63" x2="308.3" y2="896.63" stroke="#111" stroke-width="1.45"/>
<text x="299.7" y="900.73" font-size="10.5" text-anchor="end" fill="#1a1a1a" stroke="#1a1a1a" stroke-width="0.42">1</text>
<line x1="303.7" y1="949.2" x2="308.3" y2="949.2" stroke="#111" stroke-width="1.45"/>
<text x="299.7" y="953.3" font-size="10.5" text-anchor="end" fill="#1a1a1a" stroke="#1a1a1a" stroke-width="0.42">0</text>
<line x1="307.65" y1="949.2" x2="450" y2="949.2" stroke="#111" stroke-width="1.45"/>
<line x1="330.1" y1="949.2" x2="330.1" y2="954.1" stroke="#111" stroke-width="1.45"/>
<line x1="363.1" y1="949.2" x2="363.1" y2="954.1" stroke="#111" stroke-width="1.45"/>
<line x1="395.5" y1="949.2" x2="395.5" y2="954.1" stroke="#111" stroke-width="1.45"/>
<line x1="427.9" y1="949.2" x2="427.9" y2="954.1" stroke="#111" stroke-width="1.45"/>
<path d="M319.5 949.2V895.9H340.6V949.2" stroke="#333" stroke-width="1.3" fill="none"/>
<line x1="330.1" y1="879.2" x2="330.1" y2="895.9" stroke="#333" stroke-width="1.5"/>
<line x1="324.7" y1="879.2" x2="335.5" y2="879.2" stroke="#333" stroke-width="1.5"/>
<rect x="352.30" y="853.00" width="21.60" height="96.20" fill="#3f3f3f"/>
<line x1="363.1" y1="803.8" x2="363.1" y2="853" stroke="#333" stroke-width="1.5"/>
<line x1="357.7" y1="803.8" x2="368.5" y2="803.8" stroke="#333" stroke-width="1.5"/>
<rect x="384.40" y="913.80" width="21.90" height="35.40" fill="#808080"/>
<line x1="395.5" y1="902.3" x2="395.5" y2="913.8" stroke="#333" stroke-width="1.5"/>
<line x1="390.1" y1="902.3" x2="400.9" y2="902.3" stroke="#333" stroke-width="1.5"/>
<rect x="417.10" y="914.60" width="21.60" height="34.60" fill="#d6d6d6"/>
<line x1="427.9" y1="903" x2="427.9" y2="914.6" stroke="#333" stroke-width="1.5"/>
<line x1="422.5" y1="903" x2="433.3" y2="903" stroke="#333" stroke-width="1.5"/>
<line x1="309.3" y1="942.3" x2="442" y2="942.3" stroke="#111" stroke-width="1.5" stroke-dasharray="1.5 3.8"/>
<text x="262.8" y="939.0" font-size="10.4" text-anchor="start" fill="#1a1a1a" stroke="#1a1a1a" stroke-width="0.42">LLOQ</text>
<text x="394.2" y="813.8" font-size="10.4" text-anchor="start" fill="#1a1a1a" stroke="#1a1a1a" stroke-width="0.42">ANOVA: NS</text>
<text x="333.7" y="964.6" font-size="11.95" text-anchor="end" fill="#1a1a1a" stroke="#1a1a1a" stroke-width="0.32" transform="rotate(-45 333.7 964.6)">Vehicle</text>
<text x="366.7" y="964.6" font-size="11.95" text-anchor="end" fill="#1a1a1a" stroke="#1a1a1a" stroke-width="0.32" transform="rotate(-45 366.7 964.6)">Prednisone QD</text>
<text x="399.1" y="964.6" font-size="11.95" text-anchor="end" fill="#1a1a1a" stroke="#1a1a1a" stroke-width="0.32" transform="rotate(-45 399.1 964.6)">ODM-208 30 mg/kg BID</text>
<text x="431.5" y="964.6" font-size="11.95" text-anchor="end" fill="#1a1a1a" stroke="#1a1a1a" stroke-width="0.32" transform="rotate(-45 431.5 964.6)">ODM-208 30 mg/kg BID +</text>
<text x="441.0" y="973.3" font-size="11.95" text-anchor="end" fill="#1a1a1a" stroke="#1a1a1a" stroke-width="0.32" transform="rotate(-45 441.0 973.3)">Prednisone QD</text>
</g>
</svg>
</body>
</html>
